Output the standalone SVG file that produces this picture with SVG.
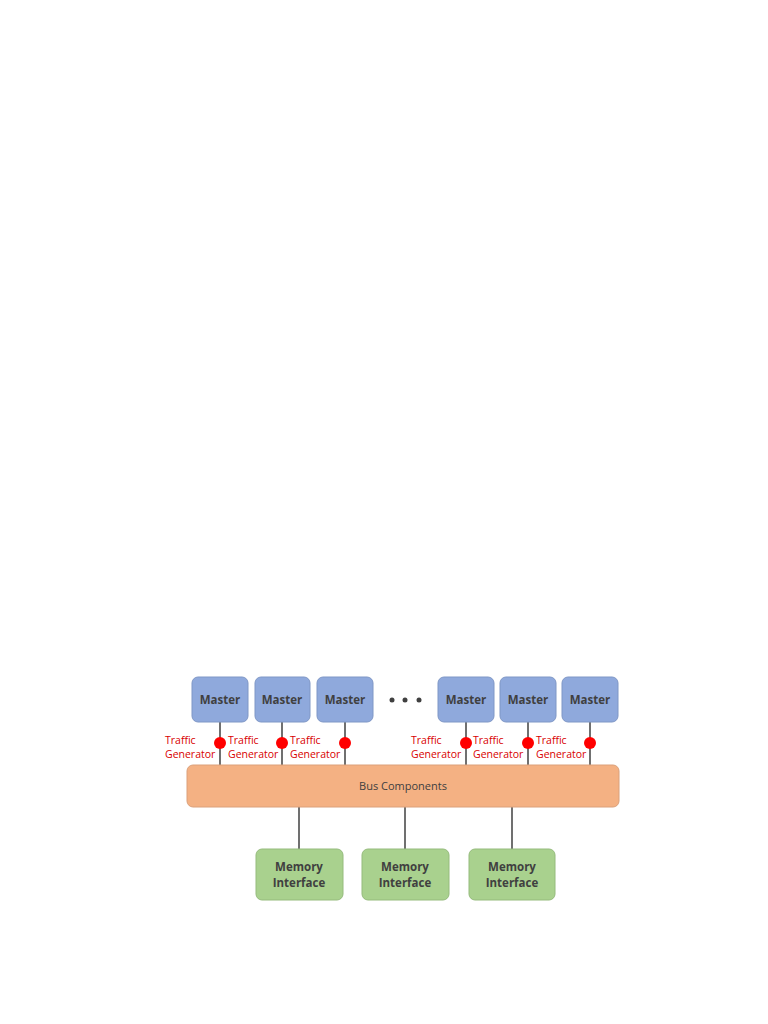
<svg xmlns="http://www.w3.org/2000/svg" width="768" height="1024" viewBox="0 0 768 1024">
<style>
.m{fill:#8fa9dc;stroke:#7f97c6;stroke-width:1}
.mem{fill:#a9d18e;stroke:#95bb7c;stroke-width:1}
.b{fill:#f4b183;stroke:#dba07a;stroke-width:1}
.t{font-family:"Open Sans","Liberation Sans",sans-serif;font-size:11.5px;font-weight:bold;fill:#404040;text-anchor:middle}
.r{font-family:"Open Sans","Liberation Sans",sans-serif;font-size:10.5px;fill:#d80000}
.l{stroke:#707070;stroke-width:2}
.d{fill:#ff0000}
</style>
<rect width="768" height="1024" fill="#fff"/>
<g id="connectors">
<line class="l" x1="220" y1="722" x2="220" y2="765"/>
<line class="l" x1="282" y1="722" x2="282" y2="765"/>
<line class="l" x1="345" y1="722" x2="345" y2="765"/>
<line class="l" x1="466" y1="722" x2="466" y2="765"/>
<line class="l" x1="528" y1="722" x2="528" y2="765"/>
<line class="l" x1="590" y1="722" x2="590" y2="765"/>
<line class="l" x1="299" y1="807" x2="299" y2="849"/>
<line class="l" x1="405" y1="807" x2="405" y2="849"/>
<line class="l" x1="512" y1="807" x2="512" y2="849"/>
</g>
<g id="m1"><rect class="m" x="192" y="677" width="56" height="45" rx="6"/><text class="t" x="220" y="704">Master</text></g>
<g id="m2"><rect class="m" x="255" y="677" width="55" height="45" rx="6"/><text class="t" x="282" y="704">Master</text></g>
<g id="m3"><rect class="m" x="317" y="677" width="56" height="45" rx="6"/><text class="t" x="345" y="704">Master</text></g>
<g id="m4"><rect class="m" x="438" y="677" width="56" height="45" rx="6"/><text class="t" x="466" y="704">Master</text></g>
<g id="m5"><rect class="m" x="500" y="677" width="56" height="45" rx="6"/><text class="t" x="528" y="704">Master</text></g>
<g id="m6"><rect class="m" x="562" y="677" width="56" height="45" rx="6"/><text class="t" x="590" y="704">Master</text></g>
<g id="dots"><circle cx="392" cy="700" r="2.5" fill="#404040"/><circle cx="405" cy="700" r="2.5" fill="#404040"/><circle cx="419" cy="700" r="2.5" fill="#404040"/></g>
<g id="tg">
<circle class="d" cx="220" cy="743" r="6"/><circle class="d" cx="282" cy="743" r="6"/><circle class="d" cx="345" cy="743" r="6"/>
<circle class="d" cx="466" cy="743" r="6"/><circle class="d" cx="528" cy="743" r="6"/><circle class="d" cx="590" cy="743" r="6"/>
<text class="r" x="165" y="744">Traffic</text><text class="r" x="165" y="758">Generator</text>
<text class="r" x="228" y="744">Traffic</text><text class="r" x="228" y="758">Generator</text>
<text class="r" x="290" y="744">Traffic</text><text class="r" x="290" y="758">Generator</text>
<text class="r" x="411" y="744">Traffic</text><text class="r" x="411" y="758">Generator</text>
<text class="r" x="473" y="744">Traffic</text><text class="r" x="473" y="758">Generator</text>
<text class="r" x="536" y="744">Traffic</text><text class="r" x="536" y="758">Generator</text>
</g>
<g id="bus"><rect class="b" x="187" y="765" width="432" height="42" rx="6"/><text x="403" y="790" text-anchor="middle" font-family="'Open Sans','Liberation Sans',sans-serif" font-size="11" fill="#404040">Bus Components</text></g>
<g id="mem1"><rect class="mem" x="256" y="849" width="87" height="51" rx="6"/><text class="t" x="299" y="871">Memory</text><text class="t" x="299" y="887">Interface</text></g>
<g id="mem2"><rect class="mem" x="362" y="849" width="87" height="51" rx="6"/><text class="t" x="405" y="871">Memory</text><text class="t" x="405" y="887">Interface</text></g>
<g id="mem3"><rect class="mem" x="469" y="849" width="86" height="51" rx="6"/><text class="t" x="512" y="871">Memory</text><text class="t" x="512" y="887">Interface</text></g>
</svg>
